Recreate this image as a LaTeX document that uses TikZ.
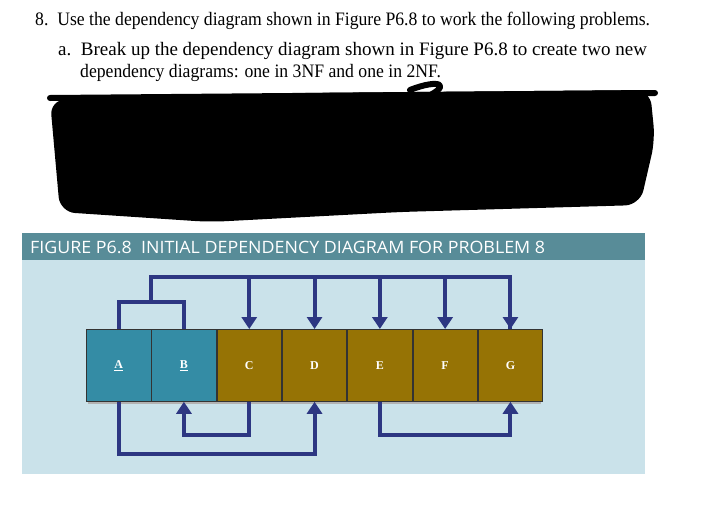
\documentclass[tikz,border=0pt]{standalone}
\usepackage{fontspec}
\usetikzlibrary{calc,arrows.meta}
\setmainfont{Liberation Serif}
\newfontfamily\hdfont{Open Sans}
\definecolor{navy}{RGB}{45,55,130}
\definecolor{teal1}{RGB}{52,140,165}
\definecolor{gold}{RGB}{150,115,5}
\definecolor{band}{RGB}{88,140,152}
\definecolor{panel}{RGB}{202,226,234}
\begin{document}
\begin{tikzpicture}[x=1pt,y=-1pt,
  qtext/.style={anchor=base west,inner sep=0,font=\fontsize{19}{21}\selectfont},
  cell/.style={draw=black!80,line width=0.8pt,minimum width=64.5pt,minimum height=72pt,inner sep=0pt,anchor=north west,text=white,font=\bfseries\fontsize{12}{13}\selectfont},
  dep/.style={navy,line width=4pt},
  deparr/.style={navy,line width=4pt,-{Triangle[length=12pt,width=15pt]}},
  scrib/.style={black,line width=6pt,line cap=round,line join=round}]
\useasboundingbox (0,0) rectangle (705,504);
\fill[white] (0,0) rectangle (705,504);
% text
\node[qtext,xscale=0.93] (q) at (35,25) {8.\ \ Use the dependency diagram shown in Figure P6.8 to work the following problems.};
\node[qtext,xscale=1.0] (qa) at (58,55) {a.\ \ Break up the dependency diagram shown in Figure P6.8 to create two new};
\node[qtext,xscale=0.93] (qb) at (80,77) {dependency diagrams: one in 3NF and one in 2NF.};
% scribble
\fill[black,rounded corners=15pt] (50,100) -- (300,93) -- (650,90) -- (655,140) -- (640,205) -- (400,212) -- (210,222) -- (60,212) -- cycle;
\draw[scrib] (50,98) -- (655,93);
\draw[scrib] (410,90) .. controls (440,78) and (455,85) .. (420,100);
% figure
\fill[panel] (22,260) rectangle (645,474);
\fill[band] (22,233) rectangle (645,260);
\node[anchor=west,text=white,font=\hdfont\fontsize{17}{19}\selectfont,inner sep=0,xscale=1.05] (title) at (30,247) {FIGURE P6.8\ \ INITIAL DEPENDENCY DIAGRAM FOR PROBLEM 8};
\fill[black!30] (88,332) rectangle (541,404);
\node[cell,fill=teal1] (A) at (86,329) {\underline{A}};
\node[cell,fill=teal1] (B) at (A.north east) {\underline{B}};
\node[cell,fill=gold] (C) at (B.north east) {C};
\node[cell,fill=gold] (D) at (C.north east) {D};
\node[cell,fill=gold] (E) at (D.north east) {E};
\node[cell,fill=gold] (F) at (E.north east) {F};
\node[cell,fill=gold] (G) at (F.north east) {G};
\coordinate (j) at ($(A.north)!0.5!(B.north)+(0,-27)$);
\draw[dep] (A.north) |- (j) -| (B.north);
\draw[dep] (j) -- ++(0,-25) coordinate (t) -| (G.north);
\foreach \n in {C,D,E,F,G} \draw[deparr] (t -| \n.north) -- (\n.north);
\draw[deparr] (C.south) -- ++(0,33) -| (B.south);
\draw[deparr] (A.south) -- ++(0,52) -| (D.south);
\draw[deparr] (E.south) -- ++(0,33) -| (G.south);
\end{tikzpicture}
\end{document}
